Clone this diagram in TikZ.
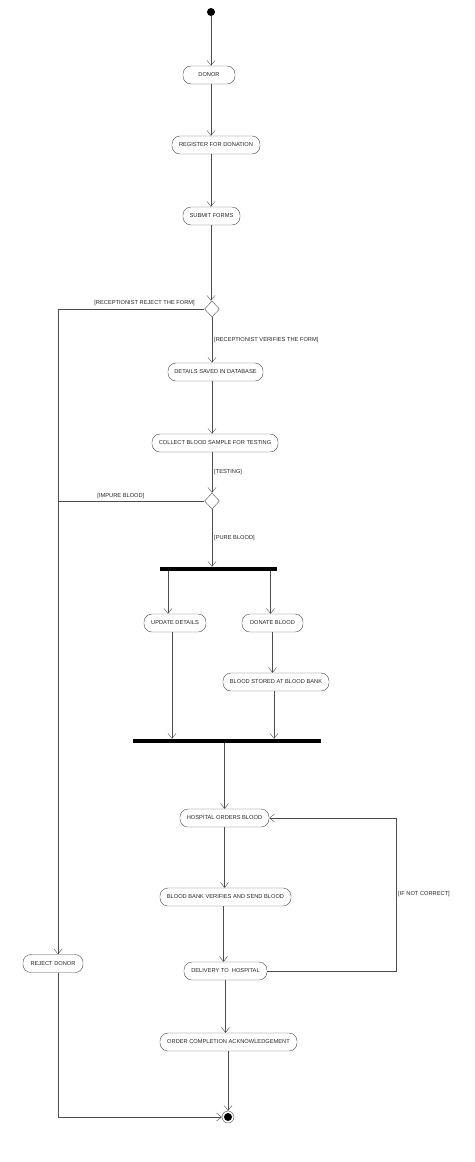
\documentclass[tikz,border=0pt]{standalone}
\usepackage{fontspec}
\setmainfont{Liberation Sans}
\usetikzlibrary{arrows.meta, shapes.geometric}

\tikzset{
  act/.style={draw=black!70, rounded corners=8pt, minimum height=18pt,
    inner sep=1pt, font=\fontsize{5.7}{6}\selectfont, text=black!85},
  choice/.style={draw=black!70, diamond, minimum width=15pt, minimum height=16pt, inner sep=0pt},
  bar/.style={fill=black, minimum height=4pt, inner sep=0pt},
  flow/.style={draw=black!70, -{Straight Barb[length=5pt,width=8pt]}},
  plain/.style={draw=black!70},
  guard/.style={font=\fontsize{5.7}{6}\selectfont, text=black!85, inner sep=2pt}
}

\begin{document}
\begin{tikzpicture}[x=1pt, y=-1pt]
  \useasboundingbox (0,0) rectangle (474,1162);

  % Registration of the donor
  \node[circle, fill=black, minimum size=8pt, inner sep=0pt] (start) at (211,12) {};
  \node[act, minimum width=52pt] (donor) at (209,75) {DONOR};
  \node[act, minimum width=88pt] (reg) at (216,145) {REGISTER FOR DONATION};
  \node[act, minimum width=57pt] (submit) at (211.5,216) {SUBMIT FORMS};
  \node[choice] (form) at (212,309) {};
  \node[act, minimum width=95pt] (saved) at (215.5,372) {DETAILS SAVED IN DATABASE};
  \node[act, minimum width=126pt] (collect) at (215,443) {COLLECT BLOOD SAMPLE FOR TESTING};
  \node[choice] (test) at (212,501) {};

  % Fork and join
  \node[bar, minimum width=117pt] (fork) at (218.5,569) {};
  \node[act, minimum width=62pt] (update) at (175,623) {UPDATE DETAILS};
  \node[act, minimum width=61pt] (donate) at (272.5,623) {DONATE BLOOD};
  \node[act, minimum width=106pt] (stored) at (276,682) {BLOOD STORED AT BLOOD BANK};
  \node[bar, minimum width=188pt] (join) at (227,741) {};

  % Hospital side
  \node[act, minimum width=89pt] (orders) at (224.5,818) {HOSPITAL ORDERS BLOOD};
  \node[act, minimum width=131pt] (sends) at (225.5,897) {BLOOD BANK VERIFIES AND SEND BLOOD};
  \node[act, minimum width=83pt] (delivery) at (225.5,971) {DELIVERY TO\ \ HOSPITAL};
  \node[act, minimum width=137pt] (ack) at (228.5,1042) {ORDER COMPLETION ACKNOWLEDGEMENT};
  \node[circle, draw=black!70, minimum size=12pt, inner sep=0pt] (stop) at (228,1117) {};
  \fill (stop) circle (4pt);

  % Rejected donor
  \node[act, minimum width=60pt] (reject) at (53,963.5) {REJECT DONOR};
  \coordinate (side) at (58,309);
  \coordinate (loop) at (396,971);

  % Connectors
  \draw[flow] (start) -- (start |- donor.north);
  \draw[flow] (donor.south -| start) -- (reg.north -| start);
  \draw[flow] (reg.south -| start) -- (submit.north -| start);
  \draw[flow] (submit.south -| start) -- (form.north -| start);
  \draw[flow] (form.south) -- (saved.north -| form)
    node[guard, midway, right] {[RECEPTIONIST VERIFIES THE FORM]};
  \draw[plain] (form.west) -- (side)
    node[guard, pos=0.05, above left, yshift=1pt] {[RECEPTIONIST REJECT THE FORM]};
  \draw[flow] (side) -- (side |- reject.north);
  \draw[flow] (saved.south -| form) -- (collect.north -| form);
  \draw[flow] (collect.south -| form) -- (test.north)
    node[guard, midway, right] {[TESTING]};
  \draw[plain] (test.west) -- (test -| side)
    node[guard, pos=0.57, above] {[IMPURE BLOOD]};
  \draw[flow] (test.south) -- (fork.north -| test)
    node[guard, midway, right] {[PURE BLOOD]};
  \draw[flow] ([xshift=-7pt]update.north |- fork.south) -- ([xshift=-7pt]update.north);
  \draw[flow] ([xshift=-2pt]donate.north |- fork.south) -- ([xshift=-2pt]donate.north);
  \draw[flow] ([xshift=-3pt]update.south) -- ([xshift=-3pt]update.south |- join.north);
  \draw[flow] (donate.south) -- (donate.south |- stored.north);
  \draw[flow] ([xshift=-2pt]stored.south) -- ([xshift=-2pt]stored.south |- join.north);
  \draw[flow] (join.south -| orders) -- (orders.north);
  \draw[flow] (orders.south) -- (orders.south |- sends.north);
  \draw[flow] ([xshift=-2pt]sends.south) -- ([xshift=-2pt]sends.south |- delivery.north);
  \draw[flow] (delivery.south) -- (delivery.south |- ack.north);
  \draw[flow] (ack.south -| stop) -- (stop.north);
  \draw[flow] (delivery.east) -- (loop) |- (orders.east)
    node[guard, pos=0.25, right] {[IF NOT CORRECT]};
  \draw[flow] (reject.south -| side) |- (stop.west);
\end{tikzpicture}
\end{document}
